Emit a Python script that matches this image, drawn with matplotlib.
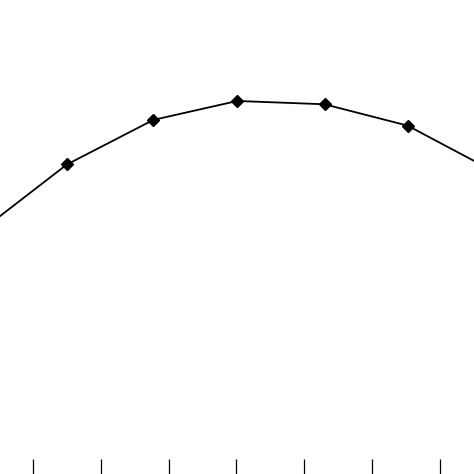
import matplotlib
matplotlib.use("Agg")
import matplotlib.pyplot as plt

# data
x_vals = [-3, 2, 7.1, 12.05, 17.2, 22.1, 27]
y_vals = [51.5, 65.3, 74.7, 78.7, 78.0, 73.5, 64.2]
x_ticks = [0, 4, 8, 12, 16, 20, 24]

dpi = 100
fig = plt.figure(figsize=(4.74, 4.74), dpi=dpi)
ax = fig.add_axes([0, 0, 1, 1])
ax.plot(x_vals, y_vals, color="black", lw=1.3, marker="D", ms=6.3,
        markerfacecolor="black", markeredgecolor="black", clip_on=True)
ax.set_xlim(-1.947, 26.02)
ax.set_ylim(0, 100)
ax.set_xticks(x_ticks)
ax.set_xticklabels([])
ax.set_yticks([])
for s in ax.spines.values():
    s.set_visible(False)
ax.tick_params(axis="x", direction="in", length=15 * 72 / dpi, width=0.9, color="black")
fig.savefig("out.png", dpi=dpi)
